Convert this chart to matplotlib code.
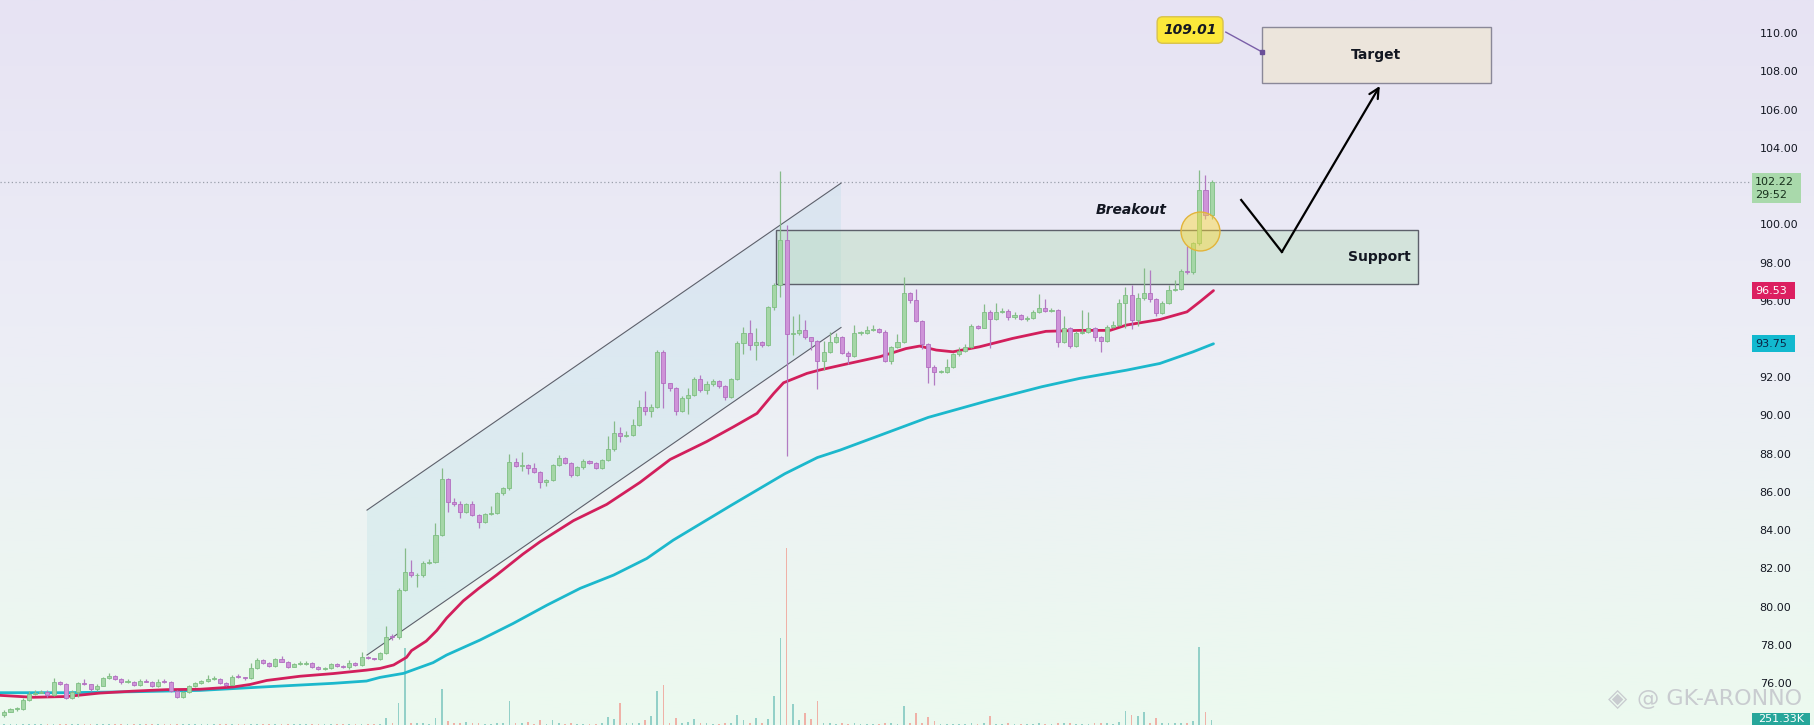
import numpy as np
import matplotlib.pyplot as plt
from matplotlib import transforms
from matplotlib.patches import Rectangle, Polygon

# ---- candle data (open of a bar = close of the bar before) ----
FIRST_OPEN = 74.33
closes = [74.51, 74.63, 74.63, 75.12, 75.43, 75.50, 75.55, 75.38, 76.07, 75.98,
          75.20, 75.55, 76.02, 75.94, 75.67, 75.87, 76.28, 76.35, 76.22, 76.05,
          76.05, 75.90, 76.11, 76.08, 75.85, 76.07, 76.06, 75.59, 75.26, 75.55,
          75.85, 76.00, 76.10, 76.20, 76.20, 76.00, 75.92, 76.34, 76.30, 76.25,
          76.77, 77.21, 77.03, 76.89, 77.26, 77.12, 76.86, 77.00, 77.00, 77.07,
          76.86, 76.74, 76.77, 77.00, 76.89, 76.86, 77.07, 76.95, 77.35, 77.30,
          77.24, 77.56, 78.43, 78.40, 80.87, 81.83, 81.63, 81.65, 82.30, 82.36,
          83.74, 86.67, 85.49, 85.35, 84.97, 85.35, 84.79, 84.44, 84.83, 84.90,
          85.92, 86.18, 87.58, 87.35, 87.40, 87.23, 87.05, 86.53, 86.60, 87.40,
          87.79, 87.50, 86.90, 87.28, 87.60, 87.50, 87.23, 87.65, 88.22, 89.10,
          88.95, 89.00, 89.50, 90.46, 90.25, 90.45, 93.33, 91.68, 91.45, 90.25,
          90.90, 91.07, 91.90, 91.33, 91.64, 91.80, 91.55, 90.95, 91.90, 93.80,
          94.29, 93.68, 93.85, 93.68, 95.68, 96.82, 99.17, 94.26, 94.30, 94.46,
          94.08, 93.90, 92.86, 93.30, 93.85, 94.10, 93.25, 93.10, 94.29, 94.29,
          94.46, 94.50, 94.38, 92.86, 93.60, 93.86, 96.38, 96.03, 94.94, 93.72,
          92.55, 92.29, 92.29, 92.55, 93.20, 93.37, 93.60, 94.68, 94.60, 95.40,
          95.07, 95.40, 95.48, 95.13, 95.28, 95.07, 95.10, 95.42, 95.60, 95.45,
          95.50, 93.86, 94.60, 93.63, 94.30, 94.35, 94.55, 94.10, 93.90, 94.64,
          94.73, 95.86, 96.30, 94.99, 96.12, 96.42, 96.07, 95.37, 95.90, 96.56,
          96.60, 97.56, 97.50, 99.00, 101.80, 100.48, 102.22]
highs = [74.60, 74.72, 74.75, 75.20, 75.58, 75.62, 75.66, 75.64, 76.26, 76.12,
         76.00, 75.62, 76.08, 76.20, 75.98, 75.95, 76.32, 76.52, 76.42, 76.28,
         76.22, 76.10, 76.22, 76.24, 76.12, 76.20, 76.24, 76.12, 75.64, 75.60,
         75.90, 76.08, 76.18, 76.40, 76.36, 76.26, 76.05, 76.40, 76.50, 76.34,
         77.05, 77.30, 77.28, 77.08, 77.32, 77.40, 77.16, 77.06, 77.14, 77.15,
         77.12, 76.90, 76.86, 77.05, 77.06, 76.96, 77.20, 77.12, 77.62, 77.40,
         77.32, 77.62, 79.00, 78.58, 80.95, 83.05, 82.45, 81.75, 82.38, 82.50,
         84.35, 87.23, 86.75, 85.70, 85.55, 85.42, 85.50, 84.84, 84.88, 85.25,
         85.98, 86.25, 88.00, 87.75, 88.10, 87.48, 87.50, 87.10, 86.70, 87.48,
         87.92, 87.85, 87.55, 87.35, 87.70, 87.66, 87.55, 87.72, 88.90, 89.70,
         89.40, 89.20, 89.80, 90.80, 91.30, 90.60, 93.40, 93.40, 91.72, 91.50,
         91.00, 91.45, 92.00, 92.10, 91.80, 91.90, 91.88, 91.60, 91.98, 93.88,
         94.65, 95.00, 94.60, 93.92, 95.75, 96.95, 102.78, 99.95, 95.20, 95.30,
         95.00, 94.12, 93.95, 93.90, 94.35, 94.30, 94.15, 93.35, 94.75, 94.40,
         94.70, 94.75, 94.55, 94.45, 93.65, 94.25, 97.25, 96.45, 96.60, 95.00,
         93.78, 92.62, 92.40, 92.95, 93.26, 93.60, 93.75, 94.80, 94.74, 95.85,
         95.50, 95.90, 95.62, 95.55, 95.40, 95.33, 95.20, 95.50, 96.35, 96.10,
         95.60, 95.55, 95.20, 94.65, 94.40, 95.50, 95.40, 94.62, 94.15, 94.72,
         94.95, 96.10, 96.70, 96.80, 96.40, 97.69, 97.60, 96.12, 96.00, 96.80,
         97.10, 97.65, 98.85, 99.05, 102.85, 102.60, 102.30]
lows = [74.25, 74.48, 74.52, 74.60, 75.08, 75.40, 75.46, 75.30, 75.34, 75.92,
        75.16, 75.18, 75.30, 75.90, 75.60, 75.58, 75.84, 76.22, 76.18, 75.98,
        76.00, 75.86, 75.86, 76.04, 75.80, 75.82, 76.02, 75.54, 75.20, 75.22,
        75.50, 75.80, 75.95, 76.05, 76.14, 75.95, 75.85, 75.88, 76.26, 76.18,
        76.20, 76.72, 76.98, 76.84, 76.86, 77.08, 76.78, 76.82, 76.95, 76.96,
        76.80, 76.68, 76.70, 76.72, 76.84, 76.80, 76.75, 76.90, 76.92, 77.26,
        77.20, 77.20, 77.50, 78.25, 78.30, 80.80, 81.55, 81.05, 81.55, 82.25,
        82.30, 83.70, 84.96, 85.28, 84.65, 84.92, 84.74, 84.10, 84.40, 84.80,
        84.85, 85.85, 86.10, 87.30, 87.10, 86.95, 87.00, 86.20, 86.30, 86.55,
        87.35, 87.45, 86.80, 86.85, 87.22, 87.45, 87.18, 87.18, 87.60, 88.15,
        88.60, 88.85, 88.95, 89.45, 90.00, 89.90, 90.40, 90.37, 91.30, 90.00,
        90.20, 90.10, 91.00, 91.25, 91.10, 91.55, 91.45, 90.80, 90.90, 91.85,
        93.20, 93.40, 92.90, 93.60, 93.62, 95.50, 96.20, 87.90, 93.15, 94.20,
        94.00, 93.40, 91.40, 92.40, 93.25, 93.80, 93.20, 92.70, 93.05, 94.20,
        94.25, 94.40, 94.32, 92.80, 92.70, 93.55, 93.80, 95.90, 94.90, 93.50,
        91.70, 91.60, 92.20, 92.20, 92.50, 93.10, 93.30, 93.55, 94.50, 94.55,
        93.55, 95.00, 95.35, 95.00, 95.05, 94.98, 94.95, 95.05, 95.38, 95.40,
        95.40, 93.60, 93.80, 93.55, 93.58, 94.25, 94.30, 93.90, 93.30, 93.85,
        94.55, 94.68, 94.60, 94.50, 94.70, 96.05, 95.95, 95.20, 95.30, 95.85,
        96.50, 96.55, 97.40, 97.40, 98.90, 100.30, 100.30]
# volume, thousands
volumes = [40, 40, 40, 60, 40, 40, 40, 40, 60, 40,
           60, 40, 60, 40, 40, 40, 40, 40, 40, 40,
           40, 40, 40, 40, 40, 40, 40, 60, 60, 40,
           40, 40, 40, 40, 40, 40, 40, 40, 40, 40,
           60, 40, 40, 40, 40, 40, 40, 40, 40, 40,
           40, 40, 40, 40, 40, 40, 40, 40, 60, 40,
           40, 60, 350, 100, 1100, 3850, 100, 80, 100, 60,
           350, 1800, 200, 80, 80, 150, 80, 80, 60, 60,
           100, 80, 1200, 80, 80, 150, 60, 250, 60, 250,
           80, 60, 80, 60, 60, 60, 60, 80, 400, 300,
           1100, 80, 80, 100, 250, 450, 1700, 2000, 100, 350,
           80, 150, 300, 80, 80, 60, 60, 100, 80, 500,
           250, 80, 350, 80, 300, 1450, 4350, 8850, 1050, 250,
           600, 300, 1200, 80, 80, 60, 80, 60, 80, 60,
           60, 60, 60, 100, 80, 60, 950, 80, 600, 80,
           400, 200, 60, 60, 60, 60, 60, 80, 60, 80,
           450, 60, 60, 80, 60, 60, 60, 60, 80, 60,
           60, 100, 80, 80, 60, 60, 60, 80, 80, 80,
           60, 150, 700, 500, 450, 650, 100, 350, 80, 80,
           80, 80, 100, 200, 3900, 650, 251.33]

# moving averages (bar index, price)
ma_fast_x = [-0.7, 4.7, 10.1, 15.5, 20.9, 26.4, 31.8, 37.2, 39.9, 42.6, 48.0, 53.4,
             58.8, 61.0, 63.2, 65.3, 66.1, 68.5, 70.2, 71.8, 74.5, 77.0, 79.9, 84.2,
             87.0, 92.4, 97.8, 103.2, 108.1, 114.0, 118.4, 122.2, 124.9, 126.5,
             130.3, 132.4, 136.7, 142.1, 146.4, 148.6, 151.3, 154.0, 158.3, 163.7,
             169.1, 174.6, 179.5, 182.2, 187.6, 192.0, 194.1, 196.3]
ma_fast_y = [75.36, 75.26, 75.30, 75.48, 75.58, 75.66, 75.68, 75.80, 75.93, 76.14,
             76.36, 76.50, 76.68, 76.77, 76.95, 77.35, 77.70, 78.20, 78.75, 79.40,
             80.30, 80.95, 81.65, 82.75, 83.40, 84.50, 85.35, 86.50, 87.70, 88.63,
             89.41, 90.11, 91.15, 91.71, 92.20, 92.38, 92.69, 93.07, 93.50, 93.63,
             93.42, 93.33, 93.59, 94.03, 94.40, 94.45, 94.45, 94.73, 95.02, 95.42,
             95.95, 96.53]
ma_slow_x = [-0.7, 10.1, 20.9, 31.8, 42.6, 53.4, 58.8, 61.0, 64.8, 69.6, 71.8, 77.2,
             82.6, 88.1, 93.5, 98.9, 104.3, 108.6, 118.0, 126.7, 132.0, 135.7, 150.0,
             160.0, 168.4, 174.6, 182.2, 187.6, 193.0, 196.3]
ma_slow_y = [75.50, 75.50, 75.55, 75.62, 75.81, 75.99, 76.11, 76.30, 76.51, 77.07,
             77.47, 78.25, 79.12, 80.08, 80.96, 81.65, 82.52, 83.48, 85.30, 86.95,
             87.80, 88.19, 89.90, 90.80, 91.50, 91.94, 92.37, 92.72, 93.33, 93.75]

price_ticks = [76, 78, 80, 82, 84, 86, 88, 90, 92, 94, 96, 98, 100, 102, 104,
               106, 108, 110]
last_price = 102.22
last_fast = 96.53
last_slow = 93.75

# drawings (bar index, price)
channel_x = [58.88, 135.83]
channel_top = [85.05, 102.15]
channel_bottom = [77.47, 94.60]
support_x = [125.2, 229.5]
support_y = [96.86, 99.70]
target_x = [204.2, 241.3]
target_y = [107.37, 110.30]
target_price = 109.01
path_x = [200.8, 207.4, 223.3]
path_y = [101.27, 98.55, 107.23]
breakout_at = (194.1, 99.66)

# ---- layout ----
W, H = 1815, 725
PLOT_RIGHT = 1750
XLIM = (-0.70, 283.4)
YLIM = (73.81, 111.73)

fig = plt.figure(figsize=(W / 100, H / 100), dpi=100)

# background gradient
bg = fig.add_axes([0, 0, 1, 1], zorder=0)
stops = np.array([[231, 227, 243], [236, 237, 246], [236, 250, 239]]) / 255.0
t = np.linspace(0, 1, 300)
grad = np.stack([np.interp(t, [0, 0.45, 1], stops[:, k]) for k in range(3)], axis=-1)
bg.imshow(grad[:, None, :], aspect='auto', extent=[0, 1, 0, 1])
bg.axis('off')

rect = [0, 0, PLOT_RIGHT / W, 1]
vax = fig.add_axes(rect, zorder=1)
vax.set_xlim(XLIM)
vax.set_ylim(0, H * 50)
vax.axis('off')

ax = fig.add_axes(rect, zorder=2)
ax.patch.set_alpha(0)
ax.set_xlim(XLIM)
ax.set_ylim(YLIM)

n = len(closes)
xs = np.arange(n)
opens = np.array([FIRST_OPEN] + closes[:-1])
c = np.array(closes)
up = c >= opens

# volume
vcol = np.where(up, '#93d0c8', '#efb1a7')
vax.bar(xs, volumes, width=0.28, color=vcol, linewidth=0)

# channel
ax.add_patch(Polygon([(channel_x[0], channel_bottom[0]), (channel_x[0], channel_top[0]),
                      (channel_x[1], channel_top[1]), (channel_x[1], channel_bottom[1])],
                     closed=True, facecolor='#a6d8e4', alpha=0.22, edgecolor='none', zorder=1))
ax.plot(channel_x, channel_top, color='#5d606b', lw=0.8, zorder=2)
ax.plot(channel_x, channel_bottom, color='#5d606b', lw=0.8, zorder=2)

# support zone
ax.add_patch(Rectangle((support_x[0], support_y[0]), support_x[1] - support_x[0],
                       support_y[1] - support_y[0], facecolor='#a5d6a7', alpha=0.33,
                       edgecolor='none', zorder=1))
ax.add_patch(Rectangle((support_x[0], support_y[0]), support_x[1] - support_x[0],
                       support_y[1] - support_y[0], facecolor='none',
                       edgecolor='#5d606b', lw=1.0, zorder=2))
ax.text(support_x[1] - 1.2, (support_y[0] + support_y[1]) / 2, 'Support', ha='right',
        va='center', fontsize=10, fontweight='bold', color='#131722', zorder=6)

# last price lines
ax.axhline(last_price, color='#9aa0ab', lw=0.9, ls=(0, (1, 2)), zorder=1)

# moving averages
ax.plot(ma_slow_x, ma_slow_y, color='#1cb8cc', lw=2.0, zorder=3, solid_capstyle='round')
ax.plot(ma_fast_x, ma_fast_y, color='#d21f5c', lw=2.0, zorder=3, solid_capstyle='round')

# candles
wick_col = np.where(up, '#86bb89', '#b27bc2')
ax.vlines(xs, lows, highs, colors=wick_col, lw=0.9, zorder=4)
bottoms = np.minimum(opens, c)
heights = np.maximum(np.abs(c - opens), 0.05)
ax.bar(xs, heights, bottom=bottoms, width=0.66,
       color=np.where(up, '#a5d6a7', '#ce93d8'),
       edgecolor=np.where(up, '#7fbf83', '#b26ec0'), linewidth=0.6, zorder=5)

# breakout marker
ax.plot(*breakout_at, marker='o', markersize=28, markerfacecolor=(0.99, 0.85, 0.2, 0.45),
        markeredgecolor='#e2b43a', markeredgewidth=1.0, zorder=6)
ax.text(183.0, 100.74, 'Breakout', ha='center', va='center', fontsize=10,
        fontweight='bold', fontstyle='italic', color='#131722', zorder=6)

# projected path
ax.plot(path_x[:2], path_y[:2], color='black', lw=1.6, zorder=6)
ax.annotate('', xy=(path_x[2], path_y[2]), xytext=(path_x[1], path_y[1]),
            arrowprops=dict(arrowstyle='->,head_length=0.7,head_width=0.35',
                            color='black', lw=1.6, shrinkA=0, shrinkB=0), zorder=6)

# target
ax.add_patch(Rectangle((target_x[0], target_y[0]), target_x[1] - target_x[0],
                       target_y[1] - target_y[0], facecolor='#ece5dc',
                       edgecolor='#8a8898', lw=1.0, zorder=6))
ax.text((target_x[0] + target_x[1]) / 2, (target_y[0] + target_y[1]) / 2, 'Target',
        ha='center', va='center', fontsize=10, fontweight='bold', color='#131722', zorder=7)
ax.plot([198.3, target_x[0]], [110.05, target_price], color='#7a5fa8', lw=1.0, zorder=6)
ax.plot([target_x[0]], [target_price], marker='s', markersize=3, color='#6a4f98', zorder=7)
ax.text(192.5, 110.16, f'{target_price:.2f}', ha='center', va='center', fontsize=10,
        fontweight='bold', fontstyle='italic', color='#131722', zorder=7,
        bbox=dict(boxstyle='round,pad=0.45,rounding_size=0.4', fc='#fce83a',
                  ec='#d8c24c', lw=1.0))

# price axis
ax.yaxis.tick_right()
ax.set_yticks(price_ticks)
ax.set_yticklabels([f'{v:.2f}' for v in price_ticks])
ax.tick_params(axis='y', length=0, pad=7, labelsize=8, labelcolor='#131722')
ax.set_xticks([])
for s in ax.spines.values():
    s.set_visible(False)

blend = transforms.blended_transform_factory(fig.transFigure, ax.transData)
px = 19.12  # pixels per price unit
x0 = 1752 / W


def price_tag(value, text, face, tc, width_px):
    ax.add_patch(Rectangle((x0, value - 8.5 / px), width_px / W, 17 / px, transform=blend,
                           facecolor=face, edgecolor='none', clip_on=False, zorder=8))
    ax.text(x0 + 3 / W, value, text, transform=blend, ha='left', va='center',
            fontsize=8, color=tc, clip_on=False, zorder=9)


price_tag(last_fast, f'{last_fast:.2f}', '#dc1f60', 'white', 43)
price_tag(last_slow, f'{last_slow:.2f}', '#12b9cf', '#0b2545', 43)
ax.add_patch(Rectangle((x0, last_price - 21.5 / px), 49 / W, 30.5 / px, transform=blend,
                       facecolor='#a9d9ab', edgecolor='none', clip_on=False, zorder=8))
ax.text(x0 + 3 / W, last_price, f'{last_price:.2f}', transform=blend, ha='left',
        va='center', fontsize=8, color='#17301c', clip_on=False, zorder=9)
ax.text(x0 + 3 / W, last_price - 13.5 / px, '29:52', transform=blend, ha='left',
        va='center', fontsize=8, color='#17301c', clip_on=False, zorder=9)

# volume tag
fig.patches.append(Rectangle((x0, 0), 58 / W, 12 / H, transform=fig.transFigure,
                             facecolor='#26a69a', edgecolor='none', zorder=8))
fig.text(x0 + 29 / W, 6 / H, f'{volumes[-1]:.2f}K', ha='center', va='center',
         fontsize=8, color='white', zorder=9)

# watermark
fig.text(1618 / W, 1 - 699 / H, '\u25c8', ha='center', va='center', fontsize=18,
         color='#c9ccd0', zorder=9)
fig.text(1637 / W, 1 - 699 / H, '@ GK-ARONNO', ha='left', va='center', fontsize=16,
         color='#c9ccd0', zorder=9)

fig.savefig('out.png', dpi=100)
